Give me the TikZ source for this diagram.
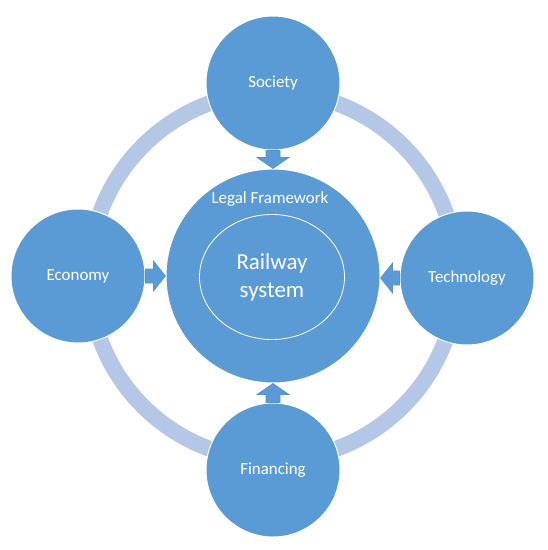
\documentclass[tikz,border=0pt]{standalone}
\usepackage{fontspec}
\setmainfont{Carlito}
\usetikzlibrary{shapes.geometric,calc}
\definecolor{cblue}{HTML}{5B9BD5}
\definecolor{cring}{HTML}{B4C7E7}
\definecolor{carrow}{HTML}{5593CC}
\tikzset{
  outer/.style={circle, fill=cblue, draw=white, line width=1bp, minimum size=134bp, inner sep=0pt,
    text=white, font=\fontsize{17}{20}\selectfont},
  core/.style={circle, fill=cblue, draw=white, line width=1bp, minimum size=214bp, inner sep=0pt},
  ringline/.style={draw=cring, line width=16bp},
  arr/.style={fill=cblue, draw=carrow, line width=0.6bp, line join=miter},
  lbl/.style={text=white, font=\fontsize{17}{20}\selectfont, inner sep=0pt},
  inner/.style={ellipse, draw=white, line width=0.8bp, minimum width=145bp, minimum height=125bp,
    inner sep=0pt, text=white, align=center, font=\fontsize{23}{28}\selectfont}
}
\newcommand\vblockarrow[2]{%
  \filldraw[arr] let \p1=(#1), \p2=(#2), \n1={sign(\y2-\y1)} in
    (\x1-7bp,\y1) -- (\x1-7bp,{\y2-\n1*11bp}) -- (\x1-16bp,{\y2-\n1*11bp}) -- (\x1,\y2)
    -- (\x1+16bp,{\y2-\n1*11bp}) -- (\x1+7bp,{\y2-\n1*11bp}) -- (\x1+7bp,\y1) -- cycle;}
\newcommand\hblockarrow[2]{%
  \filldraw[arr] let \p1=(#1), \p2=(#2), \n1={sign(\x2-\x1)} in
    (\x1,\y1-7bp) -- ({\x2-\n1*12bp},\y1-7bp) -- ({\x2-\n1*12bp},\y1-15bp) -- (\x2,\y1)
    -- ({\x2-\n1*12bp},\y1+15bp) -- ({\x2-\n1*12bp},\y1+7bp) -- (\x1,\y1+7bp) -- cycle;}
\begin{document}
\begin{tikzpicture}[x=1bp,y=-1bp]
  \useasboundingbox (0,0) rectangle (548,550);
  \fill[white] (0,0) rectangle (548,550);
  \coordinate (mid) at (273,276);
  \draw[ringline] (mid) circle[radius=184bp];
  \node[outer] (soc) at (273,83) {Society};
  \node[outer] (eco) at (78,276) {Economy};
  \node[outer] (tech) at (467,278) {Technology};
  \node[outer] (fin) at (273,470) {Financing};
  \node[core] (ctr) at (mid) {};
  \node[lbl] (legal) at (270,199) {Legal Framework};
  \node[inner] (rail) at (272,277) {Railway\\system};
  \vblockarrow{soc.south}{ctr.north}
  \vblockarrow{fin.north}{ctr.south}
  \hblockarrow{eco.east}{ctr.west}
  \hblockarrow{tech.west}{ctr.east}
\end{tikzpicture}
\end{document}
